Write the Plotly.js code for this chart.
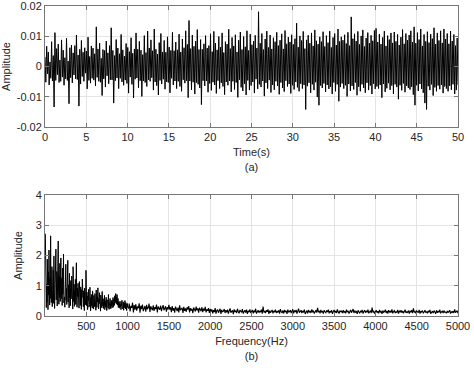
<!DOCTYPE html>
<html>
<head>
<meta charset="utf-8">
<script src="https://cdn.plot.ly/plotly-3.0.1.min.js"></script>
<style>html,body{margin:0;padding:0;background:#fff}#chart{width:474px;height:368px}</style>
</head>
<body>
<div id="chart"></div>
<script>
// (a) time-domain signal, 500 samples over 0-50 s
var timeStart = 0;
var timeStep = 50 / 499;
var signalAmplitude = [
0.0031,-0.0052,0.0067,-0.0024,0.0048,-0.0061,0.0015,-0.0039,0.0082,-0.0048,0.0036,-0.0134,0.0112,-0.0046,0.0059,-0.0027,0.0074,-0.0053,0.0021,-0.0049,
0.0088,-0.0035,0.0054,-0.0062,0.0029,-0.0041,0.0093,-0.0046,0.0018,-0.0123,0.0062,-0.0037,0.0071,-0.0054,0.0045,-0.0028,0.0069,-0.0041,0.0104,-0.0043,
0.0038,-0.0131,0.0057,-0.0058,0.0086,-0.0033,0.0047,-0.0049,0.0062,-0.0022,0.0051,-0.0074,0.0097,-0.0046,0.0033,-0.0055,0.0068,-0.0039,0.0061,-0.0045,
0.0042,-0.0064,0.0131,-0.0036,0.0058,-0.0049,0.0077,-0.0052,0.0027,-0.0096,0.0056,-0.0041,0.0053,-0.0068,0.0084,-0.0031,0.0045,-0.0057,0.0069,-0.0044,
0.0128,-0.0044,0.0053,-0.0121,0.0036,-0.0047,0.0089,-0.0038,0.0061,-0.0073,0.0042,-0.0039,0.0106,-0.0051,0.0055,-0.0062,0.0034,-0.0045,0.0076,-0.0056,
0.0063,-0.0088,0.0049,-0.0035,0.0095,-0.0059,0.0044,-0.0104,0.0058,-0.0042,0.0111,-0.0038,0.0057,-0.0071,0.0083,-0.0047,0.0054,-0.0099,0.0039,-0.0048,
0.0102,-0.0053,0.0046,-0.0066,0.0117,-0.0044,0.0061,-0.0049,0.0088,-0.0037,0.0052,-0.0078,0.0124,-0.0051,0.0057,-0.0063,0.0041,-0.0094,0.0079,-0.0046,
0.0109,-0.0058,0.0048,-0.0042,0.0086,-0.0075,0.0047,-0.0051,0.0098,-0.0053,0.0064,-0.0087,0.0053,-0.0039,0.0113,-0.0061,0.0052,-0.0048,0.0081,-0.0073,
0.0055,-0.0049,0.0107,-0.0066,0.0048,-0.0082,0.0091,-0.0044,0.0062,-0.0055,0.0118,-0.0047,0.0073,-0.0103,0.0152,-0.0048,0.0059,-0.0077,0.0104,-0.0052,
0.0067,-0.0091,0.0084,-0.0053,0.0122,-0.0059,0.0056,-0.0071,0.0089,-0.0126,0.0057,-0.0047,0.0075,-0.0064,0.0102,-0.0048,0.0061,-0.0085,0.0069,-0.0056,
0.0108,-0.0079,0.0049,-0.0052,0.0116,-0.0061,0.0077,-0.0089,0.0055,-0.0047,0.0099,-0.0073,0.0064,-0.0054,0.0111,-0.0066,0.0046,-0.0093,0.0082,-0.0051,
0.0074,-0.0062,0.0123,-0.0048,0.0059,-0.0084,0.0096,-0.0049,0.0068,-0.0076,0.0105,-0.0053,0.0048,-0.0102,0.0087,-0.0044,0.0114,-0.0069,0.0056,-0.0081,
0.0099,-0.0057,0.0065,-0.0094,0.0118,-0.0046,0.0053,-0.0078,0.0107,-0.0063,0.0072,-0.0051,0.0084,-0.0088,0.0103,-0.0042,0.0061,-0.0074,0.0181,-0.0059,
0.0077,-0.0068,0.0109,-0.0048,0.0056,-0.0098,0.0091,-0.0054,0.0117,-0.0073,0.0063,-0.0045,0.0104,-0.0086,0.0058,-0.0061,0.0095,-0.0077,0.0082,-0.0049,
0.0113,-0.0064,0.0069,-0.0092,0.0087,-0.0053,0.0108,-0.0071,0.0058,-0.0083,0.0119,-0.0047,0.0075,-0.0066,0.0097,-0.0058,0.0081,-0.0089,0.0105,-0.0062,
0.0073,-0.0076,0.0092,-0.0051,0.0143,-0.0069,0.0064,-0.0082,0.0101,-0.0057,0.0086,-0.0073,0.0116,-0.0061,0.0059,-0.0142,0.0088,-0.0065,0.0103,-0.0054,
0.0077,-0.0087,0.0111,-0.0059,0.0068,-0.0078,0.0121,-0.0052,0.0085,-0.0101,0.0074,-0.0128,0.0098,-0.0063,0.0082,-0.0071,0.0115,-0.0056,0.0066,-0.0084,
0.0102,-0.0061,0.0079,-0.0074,0.0117,-0.0067,0.0063,-0.0091,0.0096,-0.0053,0.0109,-0.0082,0.0071,-0.0059,0.0124,-0.0115,0.0083,-0.0068,0.0098,-0.0056,
0.0087,-0.0073,0.0105,-0.0062,0.0076,-0.0099,0.0113,-0.0058,0.0069,-0.0081,0.0164,-0.0064,0.0092,-0.0076,0.0108,-0.0053,0.0084,-0.0095,0.0116,-0.0067,
0.0073,-0.0082,0.0101,-0.0059,0.0121,-0.0071,0.0066,-0.0087,0.0094,-0.0054,0.0112,-0.0078,0.0077,-0.0063,0.0103,-0.0091,0.0085,-0.0057,0.0119,-0.0074,
0.0126,-0.0066,0.0081,-0.0073,0.0107,-0.0061,0.0074,-0.0103,0.0096,-0.0058,0.0117,-0.0084,0.0068,-0.0072,0.0102,-0.0055,0.0089,-0.0077,0.0111,-0.0063,
0.0078,-0.0091,0.0114,-0.0059,0.0083,-0.0068,0.0106,-0.0108,0.0071,-0.0062,0.0097,-0.0079,0.0122,-0.0056,0.0075,-0.0085,0.0109,-0.0064,0.0087,-0.0071,
0.0104,-0.0076,0.0118,-0.0067,0.0081,-0.0093,0.0131,-0.0128,0.0077,-0.0062,0.0112,-0.0081,0.0089,-0.0058,0.0124,-0.0074,0.0068,-0.0087,0.0106,-0.0121,
0.0083,-0.0142,0.0115,-0.0065,0.0079,-0.0078,0.0107,-0.0059,0.0092,-0.0096,0.0128,-0.0069,0.0074,-0.0082,0.0111,-0.0063,0.0086,-0.0075,0.0118,-0.0061,
0.0078,-0.0088,0.0124,-0.0066,0.0091,-0.0073,0.0109,-0.0082,0.0075,-0.0064,0.0117,-0.0077,0.0084,-0.0059,0.0106,-0.0091,0.0069,-0.0078,0.0094,-0.0061
];

// (b) amplitude spectrum: low band 4-1000 Hz (4 Hz bins), high band 1010-5000 Hz (10 Hz bins)
var lowFreqStart = 4;
var lowFreqStep = 4;
var spectrumLow = [
2.72,0.62,1.34,0.28,1.05,0.47,1.88,0.83,0.21,1.46,0.69,2.18,0.95,0.36,1.27,0.58,2.65,1.12,0.44,0.89,1.63,0.31,1.21,0.76,1.52,
0.42,1.98,0.87,0.25,1.38,0.66,1.15,2.21,0.53,0.94,1.47,0.33,1.02,0.71,2.48,0.86,0.39,1.31,0.62,1.74,0.48,1.09,1.92,0.57,0.81,
1.26,0.35,1.58,0.72,0.97,2.05,0.44,1.19,0.63,0.29,1.36,0.85,1.71,0.52,0.91,0.38,1.24,0.67,1.84,0.46,1.03,0.74,0.27,1.41,0.61,
0.88,0.34,1.17,0.56,0.79,1.32,0.41,0.95,0.23,1.63,0.68,0.47,1.05,0.32,0.84,0.59,1.21,0.38,0.76,1.76,0.52,0.29,0.92,0.64,1.08,
0.43,0.81,0.26,1.14,0.57,0.73,0.35,0.96,0.48,0.22,0.87,0.61,1.22,0.39,0.69,0.31,0.83,0.54,0.18,0.92,0.46,0.72,0.37,1.51,0.58,
0.34,0.79,0.42,0.21,0.66,0.51,0.88,0.29,0.57,0.38,0.95,0.44,0.17,0.62,0.33,0.71,0.48,0.26,0.83,0.39,0.56,0.23,0.68,0.45,0.31,
0.74,0.36,0.52,0.19,0.86,0.43,0.28,0.63,0.47,0.93,0.35,0.24,0.58,0.41,0.77,0.32,0.55,0.16,0.69,0.38,0.49,0.27,0.81,0.44,0.33,
0.57,0.25,0.46,0.36,0.68,0.21,0.51,0.39,0.29,0.62,0.43,0.18,0.54,0.34,0.47,0.26,0.71,0.37,0.22,0.49,0.31,0.58,0.41,0.24,0.45,
0.33,0.52,0.27,0.44,0.38,0.61,0.29,0.48,0.56,0.35,0.67,0.42,0.53,0.74,0.46,0.62,0.39,0.71,0.51,0.36,0.58,0.28,0.47,0.33,0.42,
0.26,0.49,0.31,0.38,0.21,0.45,0.34,0.52,0.24,0.41,0.29,0.47,0.19,0.37,0.43,0.27,0.51,0.32,0.23,0.44,0.35,0.18,0.39,0.28,0.42
];
var highFreqStart = 1010;
var highFreqStep = 10;
var spectrumHigh = [
0.24,0.41,0.15,0.33,0.27,0.44,0.12,0.36,0.21,0.39,0.18,0.31,0.26,0.42,0.11,0.34,0.23,0.38,0.16,0.29,
0.33,0.14,0.37,0.22,0.28,0.41,0.13,0.32,0.25,0.19,0.35,0.17,0.29,0.23,0.38,0.12,0.31,0.27,0.21,0.34,
0.16,0.28,0.36,0.19,0.25,0.32,0.14,0.29,0.22,0.37,
0.21,0.29,0.13,0.33,0.18,0.26,0.11,0.31,0.24,0.16,0.28,0.12,0.35,0.19,0.23,0.27,0.10,0.30,0.17,0.25,
0.14,0.29,0.21,0.33,0.12,0.26,0.18,0.24,0.09,0.28,0.22,0.15,0.31,0.19,0.25,0.11,0.27,0.20,0.16,0.29,
0.13,0.24,0.18,0.30,0.12,0.22,0.17,0.26,0.10,0.23,
0.15,0.22,0.09,0.19,0.13,0.26,0.08,0.18,0.21,0.11,0.17,0.24,0.07,0.20,0.14,0.16,0.23,0.10,0.19,0.12,
0.21,0.08,0.17,0.25,0.11,0.15,0.19,0.06,0.22,0.13,0.18,0.10,0.24,0.14,0.09,0.20,0.16,0.12,0.23,0.08,
0.14,0.19,0.11,0.21,0.07,0.17,0.13,0.22,0.10,0.16,0.20,0.09,0.18,0.12,0.24,0.08,0.15,0.19,0.11,0.17,
0.13,0.21,0.08,0.31,0.12,0.16,0.10,0.19,0.14,0.22,0.07,0.18,0.11,0.15,0.20,0.09,0.17,0.13,0.21,0.10,
0.16,0.12,0.19,0.08,0.23,0.14,0.11,0.18,0.09,0.20,0.13,0.17,0.07,0.21,0.12,0.15,0.19,0.10,0.16,0.22,
0.09,0.18,0.13,0.20,0.08,0.16,0.24,0.11,0.14,0.19,0.10,0.17,0.12,0.21,0.07,0.15,0.18,0.09,0.20,0.13,
0.16,0.10,0.22,0.12,0.18,0.08,0.15,0.19,0.11,0.27,0.13,0.17,0.09,0.20,0.12,0.16,0.08,0.19,0.14,0.11,
0.18,0.13,0.21,0.09,0.16,0.12,0.19,0.07,0.15,0.20,0.11,0.17,0.10,0.22,0.13,0.08,0.18,0.14,0.16,0.10,
0.19,0.12,0.15,0.09,0.21,0.13,0.17,0.08,0.14,0.20,0.11,0.16,0.23,0.10,0.18,0.12,0.15,0.07,0.19,0.13,
0.10,0.17,0.12,0.20,0.08,0.15,0.19,0.11,0.16,0.13,0.21,0.09,0.14,0.18,0.10,0.28,0.12,0.17,0.08,0.15,
0.19,0.11,0.16,0.09,0.20,0.13,0.15,0.07,0.18,0.12,0.14,0.21,0.10,0.17,0.08,0.19,0.13,0.16,0.11,0.22,
0.09,0.15,0.18,0.10,0.14,0.12,0.20,0.08,0.16,0.13,0.19,0.11,0.17,0.09,0.15,0.21,0.10,0.14,0.12,0.18,
0.08,0.16,0.13,0.19,0.10,0.25,0.12,0.15,0.09,0.17,0.14,0.11,0.20,0.08,0.16,0.12,0.18,0.10,0.13,0.19,
0.11,0.15,0.09,0.17,0.12,0.20,0.08,0.14,0.16,0.10,0.18,0.13,0.07,0.19,0.11,0.15,0.12,0.21,0.09,0.14,
0.16,0.10,0.18,0.12,0.13,0.09,0.17,0.11,0.15,0.19,0.08,0.14,0.12,0.16,0.10,0.22,0.11,0.13,0.18,0.09
];

var timeTicks = [0,5,10,15,20,25,30,35,40,45,50];
var ampTickVals = [-0.02,-0.01,0,0.01,0.02];
var ampTickText = ['-0.02','-0.01','0','0.01','0.02'];
var freqTicks = [500,1000,1500,2000,2500,3000,3500,4000,4500,5000];
var specTicks = [0,1,2,3,4];

var FONT = 'Liberation Sans, Arial, Helvetica, sans-serif';
var axisCommon = {
  showline: true, mirror: 'ticks', linecolor: '#777', linewidth: 1,
  ticks: 'inside', ticklen: 4, tickcolor: '#777', tickwidth: 1,
  showgrid: true, gridcolor: '#e4e4e4', gridwidth: 1,
  zeroline: false, tickfont: {family: FONT, size: 11, color: '#262626'},
  ticklabeloverflow: 'allow', fixedrange: true
};
function ax(extra){ return Object.assign({}, axisCommon, extra); }

var traces = [
  {type: 'scatter', mode: 'lines', y: signalAmplitude, x0: timeStart, dx: timeStep,
   xaxis: 'x', yaxis: 'y', line: {color: '#000', width: 1.0}, hoverinfo: 'skip'},
  {type: 'scatter', mode: 'lines', y: spectrumLow, x0: lowFreqStart, dx: lowFreqStep,
   xaxis: 'x2', yaxis: 'y2', line: {color: '#000', width: 1.0}, hoverinfo: 'skip'},
  {type: 'scatter', mode: 'lines', y: spectrumHigh, x0: highFreqStart, dx: highFreqStep,
   xaxis: 'x2', yaxis: 'y2', line: {color: '#000', width: 1.1}, hoverinfo: 'skip'}
];

var layout = {
  width: 474, height: 368,
  margin: {l: 45, r: 16, t: 6, b: 52},
  paper_bgcolor: '#fff', plot_bgcolor: '#fff',
  showlegend: false,
  font: {family: FONT, size: 11, color: '#262626'},
  xaxis: ax({domain: [0, 1], anchor: 'y', range: [0, 50], tickmode: 'array', tickvals: timeTicks,
    title: {text: 'Time(s)<br>(a)', font: {family: FONT, size: 11, color: '#262626'}, standoff: 6}}),
  yaxis: ax({domain: [0.6097, 1], anchor: 'x', range: [-0.02, 0.02], tickmode: 'array',
    tickvals: ampTickVals, ticktext: ampTickText,
    title: {text: 'Amplitude', font: {family: FONT, size: 11, color: '#262626'}, standoff: 4}}),
  xaxis2: ax({domain: [0, 1], anchor: 'y2', range: [0, 5000], tickmode: 'array', tickvals: freqTicks,
    title: {text: 'Frequency(Hz)<br>(b)', font: {family: FONT, size: 11, color: '#262626'}, standoff: 6}}),
  yaxis2: ax({domain: [0, 0.3903], anchor: 'x2', range: [0, 4], tickmode: 'array', tickvals: specTicks,
    title: {text: 'Amplitude', font: {family: FONT, size: 11, color: '#262626'}, standoff: 10}})
};

Plotly.newPlot('chart', traces, layout, {displayModeBar: false, staticPlot: true});
</script>
</body>
</html>
